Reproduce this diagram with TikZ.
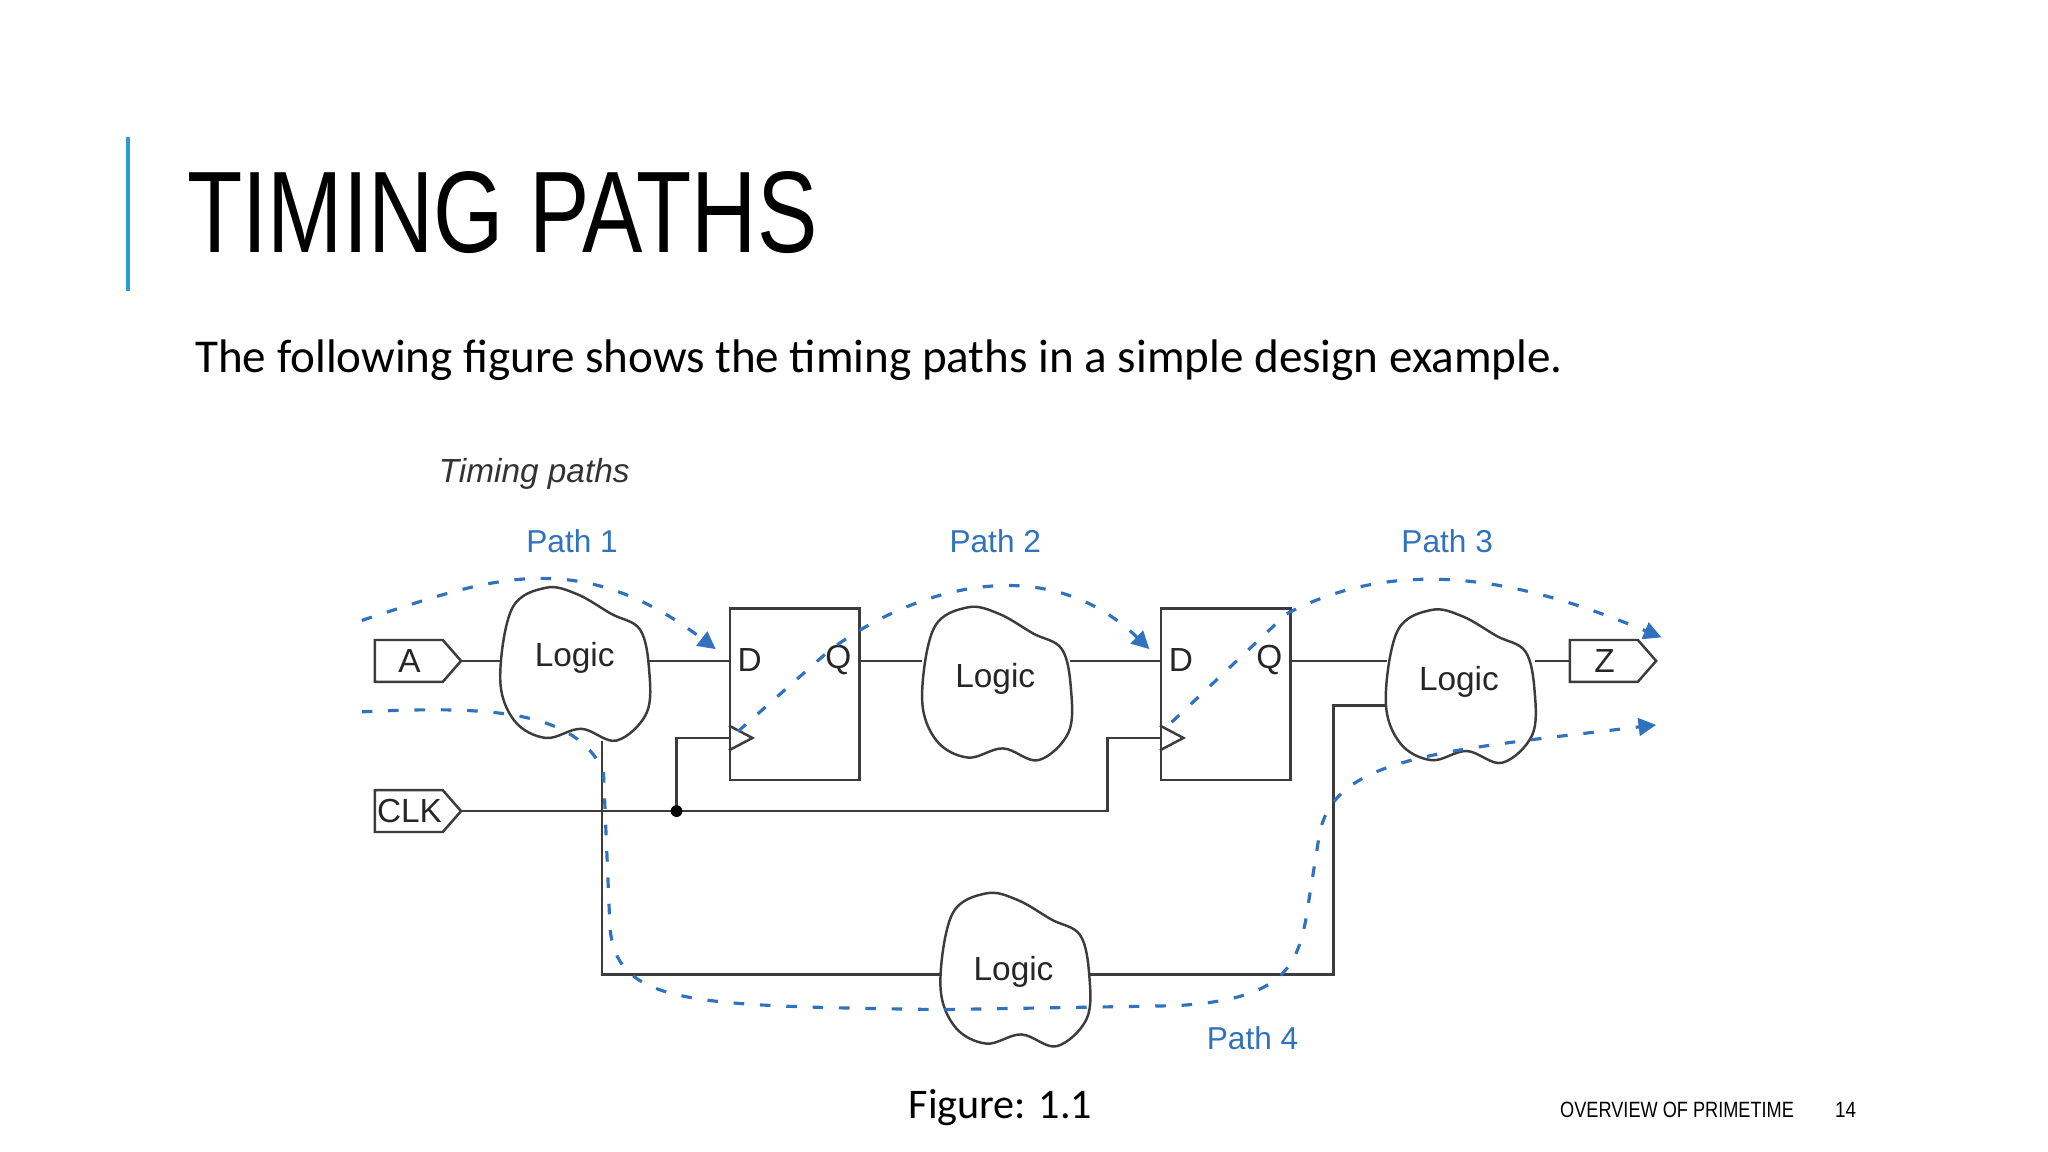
\documentclass[tikz,border=0pt]{standalone}
\usepackage{fontspec}
\setmainfont{Carlito}
\newfontfamily\hv{Liberation Sans}
\usetikzlibrary{arrows.meta,shapes.geometric,calc}
\definecolor{pblue}{RGB}{48,114,190}
\definecolor{barblue}{RGB}{46,155,214}
\definecolor{wire}{RGB}{60,60,60}
\begin{document}
\begin{tikzpicture}[x=0.01306cm,y=-0.01306cm,
  wire/.style={draw=wire,line width=0.7pt},
  port/.style={minimum width=52*0.01306cm,minimum height=32*0.01306cm,inner sep=0pt,font=\hv\fontsize{9.5}{12}\selectfont,text=black!85},
  ff/.style={wire,minimum width=99*0.01306cm,minimum height=131*0.01306cm,inner sep=0pt},
  lg/.style={minimum width=115*0.01306cm,minimum height=120*0.01306cm,inner sep=0pt},
  pth/.style={draw=pblue,line width=0.9pt,dash pattern=on 3pt off 4.5pt},
  parr/.style={pth,-{Triangle[length=5pt,width=5pt]}},
  plab/.style={text=pblue,font=\hv\fontsize{9}{11}\selectfont},
  pin/.style={font=\hv\fontsize{9.5}{12}\selectfont,text=black!85}]
\useasboundingbox (0,0) rectangle (1568,882);
\fill[white] (0,0) rectangle (1568,882);
% header
\draw[barblue,line width=1.2pt] (98,105) -- (98,223);
\node[anchor=west,inner sep=0pt] (title) at (143,163) {\hv\fontsize{33}{36}\selectfont\scalebox{0.78}[1]{TIMING PATHS}};
\node[anchor=west,inner sep=0pt] (sub) at (149,276) {\fontsize{13.4}{16}\selectfont The following figure shows the timing paths in a simple design example.};
\node (fig) at (766,848) {\fontsize{12}{15}\selectfont Figure: 1.1};
\node (foot) at (1284,850) {\hv\fontsize{6.3}{8}\selectfont\scalebox{0.82}[1]{OVERVIEW OF PRIMETIME}};
\node (pg) at (1413,850) {\hv\fontsize{6.3}{8}\selectfont\scalebox{0.85}[1]{14}};
\node[font=\hv\itshape\fontsize{9.5}{12}\selectfont,text=black!80] (tp) at (409,363) {Timing paths};
% ports
\foreach \n/\x/\y/\t in {A/287/506/A,CLK/287/621/CLK,Z/1202/506/Z}{
  \draw[wire,fill=white] (\x,\y-16) -- (\x+52,\y-16) -- (\x+66,\y) -- (\x+52,\y+16) -- (\x,\y+16) -- cycle;
  \node[port,anchor=west] (\n) at (\x,\y) {\t};
}
\coordinate (Aout) at (353,506);
\coordinate (CLKout) at (353,621);
\coordinate (Zin) at (1202,506);
% flip-flops
\node[ff] (ff1) at (608.5,531.5) {};
\node[ff] (ff2) at (938.5,531.5) {};
\foreach \f in {ff1,ff2}{
  \node[pin] (\f D) at ($(\f.west)+(16,-26)$) {D};
  \node[pin] (\f Q) at ($(\f.east)+(-17,-26)$) {Q};
  \draw[wire] ($(\f.west)+(0,24)$) -- ($(\f.west)+(18,33.5)$) -- ($(\f.west)+(0,43)$);
}
% logic clouds
\node[lg] (L1) at (440,508) {};
\node[lg] (L2) at (763,523) {};
\node[lg] (L3) at (1118,525) {};
\node[lg] (L4) at (777,742) {};
\foreach \c in {L1,L2,L3,L4}{
  \draw[wire,fill=white] plot[smooth cycle,tension=0.6] coordinates {
   ($(\c)+(-48,-42)$) ($(\c)+(-22,-58)$) ($(\c)+(2,-53)$) ($(\c)+(28,-38)$) ($(\c)+(50,-26)$)
   ($(\c)+(57,5)$) ($(\c)+(55,38)$) ($(\c)+(32,59)$) ($(\c)+(5,50)$) ($(\c)+(-22,57)$)
   ($(\c)+(-46,44)$) ($(\c)+(-57,12)$)};
}
\node[pin] (t1) at (440,504) {Logic};
\node[pin] (t2) at (762,520) {Logic};
\node[pin] (t3) at (1117,522) {Logic};
\node[pin] (t4) at (776,744) {Logic};
% wires
\coordinate (l1w) at (383,506); \coordinate (l1e) at (497,506);
\draw[wire] (Aout) -- (l1w);
\draw[wire] (l1e) -- (ff1.west |- l1e);
\draw[wire] (ff1.east |- l1e) -- (706,506);
\draw[wire] (819,506) -- (ff2.west |- l1e);
\draw[wire] (ff2.east |- l1e) -- (1062,506);
\draw[wire] (1175,506) -- (Zin);
\coordinate (dot) at (518,621);
\draw[wire] (CLKout) -- (848,621) -- (848,565) -- (ff2.west |- 0,565);
\draw[wire] (dot) -- (518,565) -- (ff1.west |- 0,565);
\fill[black] (dot) circle (4.5);
\draw[wire] (461,567) -- (461,746) -- (720,746);
\draw[wire] (834,746) -- (1021,746) -- (1021,540) -- (1061,540);
% paths
\draw[parr] (277,475) .. controls (370,445) and (440,415) .. (548,497);
\draw[parr] (565,560) -- (635,498) .. controls (700,450) and (800,420) .. (880,497);
\draw[parr] (897,553) -- (985,470) .. controls (1080,420) and (1180,450) .. (1272,488);
\draw[parr] (277,545) .. controls (380,540) and (440,545) .. (462,590)
   -- (467,710) .. controls (472,770) and (530,770) .. (720,773)
   -- (900,770) .. controls (985,765) and (995,740) .. (1002,690)
   -- (1010,640) .. controls (1020,580) and (1100,575) .. (1268,555);
\node[plab] (p1) at (438,414) {Path 1};
\node[plab] (p2) at (762,414) {Path 2};
\node[plab] (p3) at (1108,414) {Path 3};
\node[plab] (p4) at (959,795) {Path 4};
\end{tikzpicture}
\end{document}
